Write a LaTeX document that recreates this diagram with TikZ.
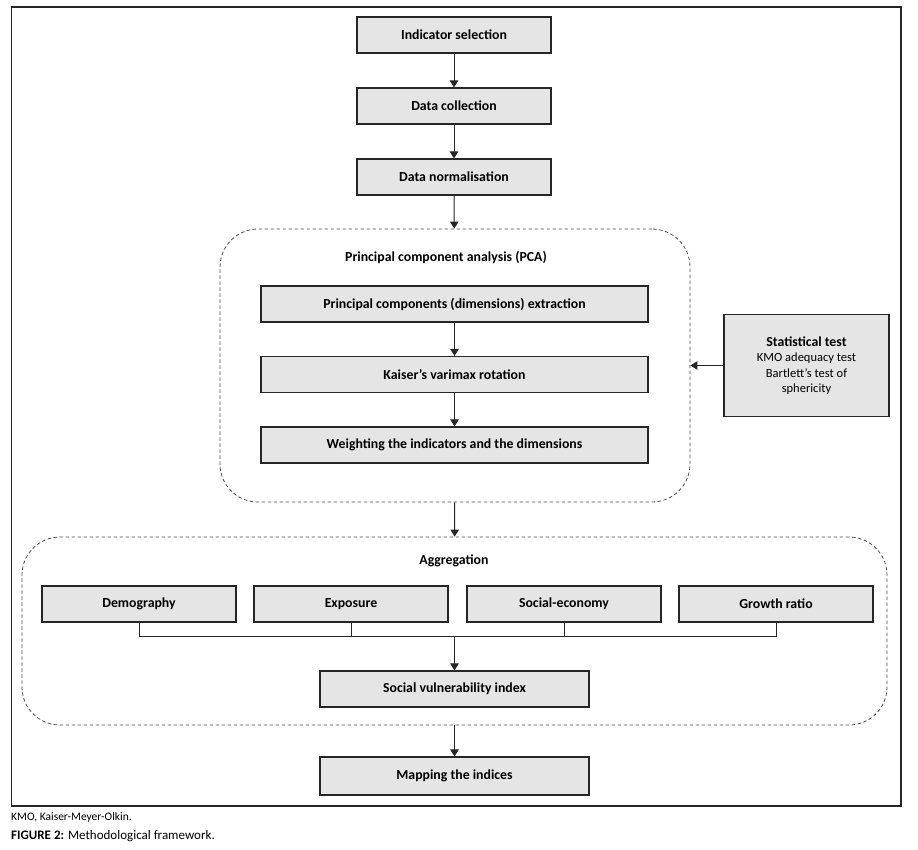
\documentclass[tikz,border=0pt]{standalone}
\usepackage{fontspec}
\setmainfont{Carlito}
\usetikzlibrary{arrows.meta}

\begin{document}
\begin{tikzpicture}[x=1pt, y=-1pt,
    stepbox/.style={draw=black!85, line width=1.1pt, fill=black!10, font=\bfseries\fontsize{13.8}{16}\selectfont, inner sep=0pt},
    group/.style={draw=black!70, dashed, dash pattern=on 3.5pt off 2.5pt, line width=0.8pt, rounded corners=38pt, inner sep=0pt},
    flow/.style={-{Triangle[length=7pt, width=8.5pt]}, line width=1pt, black!85},
    link/.style={line width=1pt, black!85}]

            \useasboundingbox (0,0) rectangle (918,849);

            % Frame
            \draw[line width=1.3pt, black!85] (11.5,7) rectangle (901,806);

            % Top steps
            \node[stepbox, minimum width=194, minimum height=36] (sel) at (454,35) {Indicator selection};
            \node[stepbox, minimum width=194, minimum height=36] (coll) at (454,106) {Data collection};
            \node[stepbox, minimum width=194, minimum height=36] (norm) at (454,177) {Data normalisation};

            % PCA group
            \node[group, minimum width=470, minimum height=273] (pca) at (455,365.5) {};
            \node[font=\bfseries\fontsize{13.8}{16}\selectfont] (pcatitle) at (446,257) {Principal component analysis (PCA)};
            \node[stepbox, minimum width=387, minimum height=36] (extr) at (454.5,304) {Principal components (dimensions) extraction};
            \node[stepbox, minimum width=387, minimum height=36] (rot) at (454.5,374.5) {Kaiser's varimax rotation};
            \node[stepbox, minimum width=387, minimum height=36] (wgt) at (454.5,445) {Weighting the indicators and the dimensions};

            % Statistical test
            \node[stepbox, minimum width=165, minimum height=102, align=center, font=\fontsize{12.5}{15.5}\selectfont] (stat) at (806.5,365.5)
                {\textbf{\fontsize{13.8}{15.5}\selectfont Statistical test}\\KMO adequacy test\\Bartlett’s test of\\sphericity};

            % Aggregation group
            \node[group, minimum width=865, minimum height=188] (agg) at (454.5,631) {};
            \node[font=\bfseries\fontsize{13.8}{16}\selectfont] (aggtitle) at (454,561) {Aggregation};
            \node[stepbox, minimum width=194, minimum height=36] (demo) at (139,604) {Demography};
            \node[stepbox, minimum width=194, minimum height=36] (expo) at (351,604) {Exposure};
            \node[stepbox, minimum width=194, minimum height=36] (soc) at (564,604) {Social-economy};
            \node[stepbox, minimum width=194, minimum height=36] (grow) at (776,604) {Growth ratio};
            \node[stepbox, minimum width=269, minimum height=36] (svi) at (454.5,689) {Social vulnerability index};

            % Mapping
            \node[stepbox, minimum width=269, minimum height=38] (map) at (454.5,776) {Mapping the indices};

            % Arrows
            \draw[flow] (sel) -- (coll);
            \draw[flow] (coll) -- (norm);
            \draw[flow] (norm) -- (pca);
            \draw[flow] (extr) -- (rot);
            \draw[flow] (rot) -- (wgt);
            \draw[flow] (stat) -- (pca.east);
            \draw[flow] (pca) -- (agg);
            \draw[flow] (agg) -- (map);

            % Bus line into the index
            \coordinate (bus) at (454.5,636);
            \draw[link] (demo.south) -- (demo.south |- bus) -- (grow.south |- bus) -- (grow.south);
            \draw[link] (expo.south) -- (expo.south |- bus);
            \draw[link] (soc.south) -- (soc.south |- bus);
            \draw[flow] (bus) -- (svi);

            % Notes
            \node[anchor=west, font=\fontsize{11.5}{13}\selectfont, inner sep=0pt] (note) at (11,817) {KMO, Kaiser-Meyer-Olkin.};
            \node[anchor=west, font=\fontsize{13}{15}\selectfont, inner sep=0pt] (caption) at (11,836) {\textbf{FIGURE 2:} Methodological framework.};

        \end{tikzpicture}
\end{document}
